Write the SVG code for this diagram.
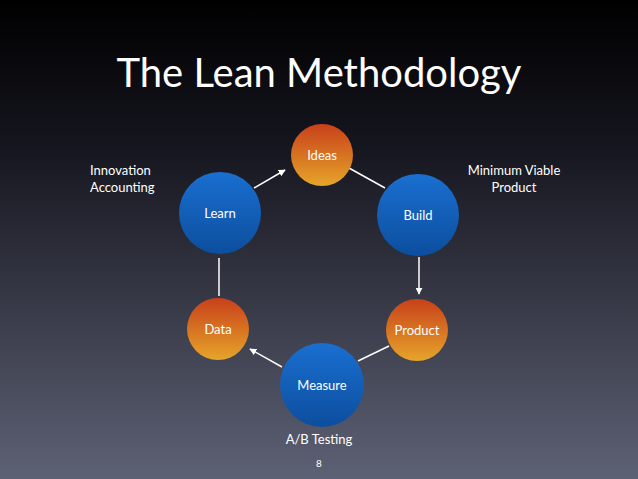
<svg xmlns="http://www.w3.org/2000/svg" width="638" height="479" viewBox="0 0 638 479">
<defs>
<linearGradient id="bg" x1="0" y1="0" x2="0" y2="1"><stop offset="0" stop-color="#000000"/><stop offset="0.3" stop-color="#15151e"/><stop offset="1" stop-color="#5d6174"/></linearGradient>
<linearGradient id="or" x1="0" y1="0" x2="0" y2="1"><stop offset="0" stop-color="#c8401a"/><stop offset="1" stop-color="#e6a52a"/></linearGradient>
<linearGradient id="bl" x1="0" y1="0" x2="0" y2="1"><stop offset="0" stop-color="#1a6fd0"/><stop offset="1" stop-color="#0c4e9e"/></linearGradient>
<marker id="ah" viewBox="0 0 10 10" refX="9" refY="5" markerWidth="7" markerHeight="7" orient="auto" markerUnits="userSpaceOnUse"><path d="M0,0 L10,5 L0,10 z" fill="#fff"/></marker>
<style>
.t{font-family:Lato,"Open Sans",sans-serif;fill:#fff;text-anchor:middle}
.n{font-size:13px}
.c{stroke:#fff;stroke-width:1.5;fill:none}
</style>
</defs>
<rect width="638" height="479" fill="url(#bg)"/>
<text class="t" x="319" y="87" font-size="40">The Lean Methodology</text>
<g id="connectors">
<line class="c" x1="254" y1="188" x2="285" y2="170" marker-end="url(#ah)"/>
<line class="c" x1="349" y1="168" x2="385" y2="188"/>
<line class="c" x1="419" y1="257" x2="419" y2="294" marker-end="url(#ah)"/>
<line class="c" x1="389" y1="346" x2="358" y2="361"/>
<line class="c" x1="282" y1="367" x2="250" y2="349" marker-end="url(#ah)"/>
<line class="c" x1="219" y1="258" x2="219" y2="296"/>
</g>
<g id="ideas"><circle cx="322" cy="155" r="31" fill="url(#or)"/><text class="t n" x="322" y="160">Ideas</text></g>
<g id="build"><circle cx="418" cy="215" r="41" fill="url(#bl)"/><text class="t n" x="418" y="220">Build</text></g>
<g id="product"><circle cx="417" cy="330" r="31" fill="url(#or)"/><text class="t n" x="417" y="335">Product</text></g>
<g id="measure"><circle cx="322" cy="385" r="42" fill="url(#bl)"/><text class="t n" x="322" y="390">Measure</text></g>
<g id="data"><circle cx="218" cy="329" r="31" fill="url(#or)"/><text class="t n" x="218" y="334">Data</text></g>
<g id="learn"><circle cx="220" cy="213" r="41" fill="url(#bl)"/><text class="t n" x="220" y="218">Learn</text></g>
<text class="t n" x="90" y="175" text-anchor="start" style="text-anchor:start">Innovation</text>
<text class="t n" x="90" y="192" style="text-anchor:start">Accounting</text>
<text class="t n" x="514" y="175">Minimum Viable</text>
<text class="t n" x="514" y="192">Product</text>
<text class="t n" x="319" y="444">A/B Testing</text>
<text class="t" x="319" y="467" font-size="10">8</text>
</svg>
